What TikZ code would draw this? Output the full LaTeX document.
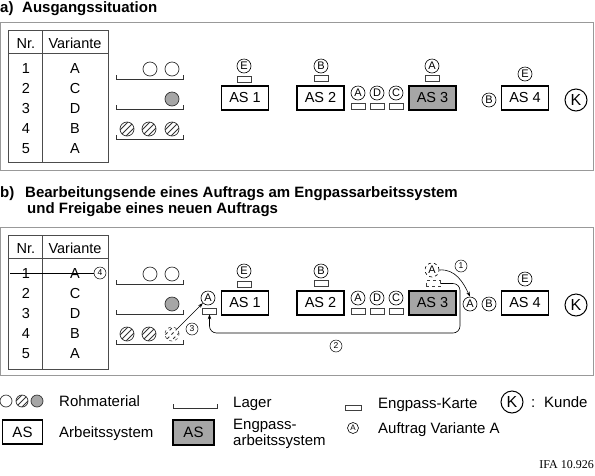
\documentclass[tikz,border=0pt]{standalone}
\usepackage{fontspec}
\setmainfont{Liberation Sans}
\newfontfamily\timesf{Liberation Serif}
\usetikzlibrary{arrows.meta,calc}
\tikzset{
  frame/.style={draw=black!40, line width=1pt},
  tbl/.style={draw=black!70, line width=0.9pt},
  txt/.style={font=\fontsize{14.5}{14.5}\selectfont, inner sep=0, text height=10.5, text depth=0},
  ttl/.style={font=\bfseries\fontsize{15}{15}\selectfont, anchor=base west, inner sep=0},
  leg/.style={font=\fontsize{15}{15}\selectfont, anchor=base west, inner sep=0},
  asbox/.style={draw, line width=1.3pt, minimum width=47, minimum height=24, inner sep=0, font=\fontsize{14.5}{14.5}\selectfont},
  ngbox/.style={asbox, fill=black!35},
  card/.style={draw=black!75, line width=0.6pt, minimum width=14, minimum height=6, inner sep=0},
  dcard/.style={card, dashed},
  ord/.style={circle, draw, line width=0.6pt, minimum size=14, inner sep=0, font=\fontsize{11}{11}\selectfont},
  dord/.style={ord, dashed},
  num/.style={circle, draw, line width=0.5pt, minimum size=12, inner sep=0, font=\fontsize{8.5}{8.5}\selectfont},
  kund/.style={circle, draw, line width=1pt, minimum size=22, inner sep=0, font=\fontsize{16}{16}\selectfont},
  mat/.style={circle, draw=black!80, line width=0.7pt, minimum size=14, inner sep=0},
  matg/.style={mat, fill=black!35},
  hatchmat/.style={mat, path picture={
     \foreach \d in {-6,0,6}{\draw[line width=1pt, black!80]
       ($(path picture bounding box.center)+(\d-9,9)$) -- ($(path picture bounding box.center)+(\d+9,-9)$);}}},
  hatchdash/.style={hatchmat, dashed, draw=black!60},
  lagerline/.style={draw=black!80, line width=0.9pt},
  arr/.style={-{Stealth[length=5pt,width=3.5pt]}, line width=0.6pt},
}
\newcommand{\lagerbr}[3]{\draw[lagerline] (#1,#3-4) -- (#1,#3) -- (#2,#3) -- (#2,#3-4);}
\begin{document}
\begin{tikzpicture}[x=1pt,y=-1pt]
\useasboundingbox (0,0) rectangle (595,475);

%% ---------------- a) ----------------
\node[ttl] (ta1) at (0,12) {a)};
\node[ttl] (ta2) at (22,12) {Ausgangssituation};
\draw[frame] (0.5,22) rectangle (593,170);

\draw[tbl] (8,30) rectangle (108,162);
\draw[tbl] (42,30) -- (42,162);
\draw[tbl] (8,53) -- (108,53);
\node[txt] (ah1) at (26,43) {Nr.};
\node[txt] (ah2) at (75,43) {Variante};
\foreach \n/\v/\y in {1/A/68,2/C/88,3/D/108,4/B/128,5/A/148}{
  \node[txt] (an\n) at (26,\y) {\n};
  \node[txt] (av\n) at (75,\y) {\v};
}

\lagerbr{116}{183}{79}
\lagerbr{116}{183}{109}
\lagerbr{116}{183}{139}
\node[mat] (am1) at (150,69) {};
\node[mat] (am2) at (172,69) {};
\node[matg] (am3) at (172,99) {};
\node[hatchmat] (am4) at (127,129) {};
\node[hatchmat] (am5) at (149,129) {};
\node[hatchmat] (am6) at (172,129) {};

\node[asbox] (aAS1) at (245,98) {AS 1};
\node[card] (ac1) at (244.5,79) {};
\node[ord] (ao1) at (244,66) {E};

\node[asbox] (aAS2) at (320.5,98) {AS 2};
\node[card] (ac2) at (321,78.5) {};
\node[ord] (ao2) at (321,66) {B};

\node[ord] (aqA) at (358,93) {A};
\node[ord] (aqD) at (377,93) {D};
\node[ord] (aqC) at (396,93) {C};
\node[card] (acA) at (358,106) {};
\node[card] (acD) at (377,106) {};
\node[card] (acC) at (396,106) {};

\node[ngbox] (aAS3) at (432.5,98) {AS 3};
\node[card] (ac3) at (432,78.5) {};
\node[ord] (ao3) at (432,66) {A};

\node[ord] (aB) at (489,100) {B};
\node[asbox] (aAS4) at (525,98) {AS 4};
\node[ord] (ao4) at (525,74) {E};
\node[kund] (aK) at (576,100) {K};

%% ---------------- b) ----------------
\node[ttl] (tb1) at (0,197) {b)};
\node[ttl] (tb2) at (25,197) {Bearbeitungsende eines Auftrags am Engpassarbeitssystem};
\node[ttl] (tb3) at (27,213) {und Freigabe eines neuen Auftrags};
\draw[frame] (0.5,227) rectangle (593,375);

\draw[tbl] (8,235) rectangle (108,369);
\draw[tbl] (42,235) -- (42,369);
\draw[tbl] (8,258) -- (108,258);
\node[txt] (bh1) at (26,248) {Nr.};
\node[txt] (bh2) at (75,248) {Variante};
\foreach \n/\v/\y in {1/A/273,2/C/293,3/D/313,4/B/333,5/A/353}{
  \node[txt] (bn\n) at (26,\y) {\n};
  \node[txt] (bv\n) at (75,\y) {\v};
}
\node[num] (b4) at (100,273) {4};
\draw[line width=0.8pt] (10,273) -- (b4.west);

\lagerbr{116}{183}{284}
\lagerbr{116}{183}{314}
\lagerbr{116}{183}{344}
\node[mat] (bm1) at (150,274) {};
\node[mat] (bm2) at (172,274) {};
\node[matg] (bm3) at (172,304) {};
\node[hatchmat] (bm4) at (127,334) {};
\node[hatchmat] (bm5) at (149,334) {};
\node[hatchdash] (bm6) at (172,334) {};

\node[ord] (bqN) at (208,298) {A};
\node[card] (bcN) at (209.5,311) {};

\node[asbox] (bAS1) at (245,303) {AS 1};
\node[card] (bc1) at (244.5,284) {};
\node[ord] (bo1) at (244,271) {E};

\node[asbox] (bAS2) at (320.5,303) {AS 2};
\node[card] (bc2) at (321,283.5) {};
\node[ord] (bo2) at (321,271) {B};

\node[ord] (bqA) at (358,298) {A};
\node[ord] (bqD) at (377,298) {D};
\node[ord] (bqC) at (396,298) {C};
\node[card] (bcA) at (358,311) {};
\node[card] (bcD) at (377,311) {};
\node[card] (bcC) at (396,311) {};

\node[ngbox] (bAS3) at (432.5,303) {AS 3};
\node[dcard] (bc3) at (433,283.5) {};
\node[dord] (bo3) at (432,270) {A};

\node[ord] (bA) at (470,304) {A};
\node[ord] (bB) at (489,304) {B};
\node[asbox] (bAS4) at (525,303) {AS 4};
\node[ord] (bo4) at (525,279) {E};
\node[kund] (bK) at (576,305) {K};

% arrows
\draw[arr] (bo3.east) to[out=5,in=115] (bA.north);
\node[num] (n1) at (461,266) {1};

\coordinate (c2) at (460,333);
\draw[arr, rounded corners=7] (bc3.east) -| (c2) -| (bcN.south);
\node[num] (n2) at (336,346) {2};

\draw[arr] (bm6.north east) -- (bqN.south west);
\node[num] (n3) at (192,329) {3};

%% ---------------- legend ----------------
\node[mat, minimum size=12] (lm1) at (6,401) {};
\node[hatchmat, minimum size=12] (lm2) at (22,401) {};
\node[matg, minimum size=12] (lm3) at (37,401) {};
\node[leg] (lt1) at (59,406.5) {Rohmaterial};

\lagerbr{173}{217}{408}
\node[leg] (lt2) at (233,407.5) {Lager};

\node[card, minimum width=16, minimum height=5] (lc) at (353,408) {};
\node[leg] (lt3) at (378,408) {Engpass-Karte};

\node[kund] (lK) at (512,402) {K};
\node[leg] (lcol) at (531,407.5) {:};
\node[leg] (lt4) at (544,407.5) {Kunde};

\node[asbox, minimum width=40, minimum height=24, font=\fontsize{15}{15}\selectfont] (lAS) at (22.5,432) {AS};
\node[leg] (lt5) at (59,437.5) {Arbeitssystem};

\node[ngbox, minimum width=41, minimum height=25, font=\fontsize{15}{15}\selectfont] (lNG) at (193.5,432.5) {AS};
\node[leg] (lt6a) at (233,429.5) {Engpass-};
\node[leg] (lt6b) at (233,445.5) {arbeitssystem};

\node[ord, minimum size=11, font=\fontsize{8}{8}\selectfont] (lA) at (353,428) {A};
\node[leg] (lt7) at (378,433.5) {Auftrag Variante A};

\node[anchor=east, inner sep=0, font=\timesf\fontsize{12}{12}\selectfont] (ifa) at (594,465) {IFA 10.926};
\end{tikzpicture}
\end{document}
